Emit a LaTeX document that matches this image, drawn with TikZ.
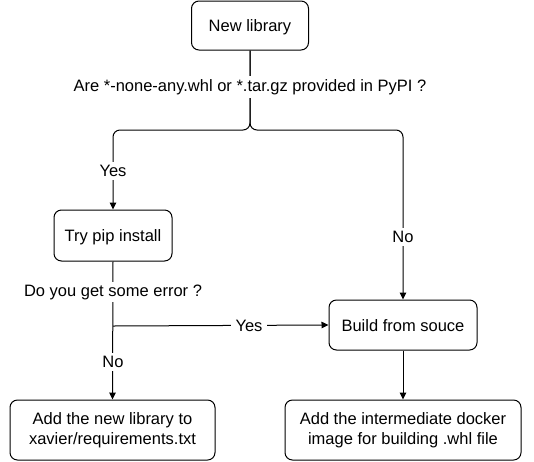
\documentclass[tikz,border=0pt]{standalone}
\usepackage{fontspec}
\setmainfont{Liberation Sans}
\usetikzlibrary{arrows.meta}
\begin{document}
\begin{tikzpicture}[x=1pt,y=-1pt,
  every node/.style={font=\fontsize{16.5}{20}\selectfont},
  box/.style={draw, line width=1pt, rounded corners=7.5pt, fill=white, align=center, inner sep=0pt},
  onebox/.style={box, text height=12pt, text depth=0pt},
  lbl/.style={fill=white, inner xsep=5pt, inner ysep=3pt},
  conn/.style={line width=1pt},
  arr/.style={conn, -{Triangle[length=7pt,width=6.5pt]}}]
\useasboundingbox (0,0) rectangle (534,461);
\node[onebox, minimum width=117pt, minimum height=49pt] (new) at (250,25.5) {New library};
\node[onebox, minimum width=118pt, minimum height=51pt] (pip) at (113,235.5) {Try pip install};
\node[box, minimum width=205pt, minimum height=60pt] (lib) at (112.5,430) {Add the new library to\\xavier/requirements.txt};
\node[onebox, minimum width=148pt, minimum height=50pt] (build) at (403,325) {Build from souce};
\node[box, minimum width=236pt, minimum height=60pt] (img) at (403,430) {Add the intermediate docker\\image for building .whl file};
\coordinate (split) at (250,130);
\coordinate (fork) at (113,326);
% top fork
\draw[arr, rounded corners=7pt] (new.south) |- (split) -| (pip.north);
\draw[arr, rounded corners=7pt] (new.south) |- (split) -| (build.north);
\node[lbl] (q1) at (250,87) {Are *-none-any.whl or *.tar.gz provided in PyPI ?};
\node[lbl] (yes1) at (113,171) {Yes};
\node[lbl] (no1) at (403,237) {No};
% lower fork
\draw[arr] (pip.south) -- (lib.north);
\draw[arr] (fork) -- (build.west);
\node[lbl] (q2) at (113,292) {Do you get some error ?};
\node[lbl] (yes2) at (249,326) {Yes};
\node[lbl] (no2) at (113,362) {No};
\draw[arr] (build.south) -- (img.north);
\end{tikzpicture}
\end{document}
